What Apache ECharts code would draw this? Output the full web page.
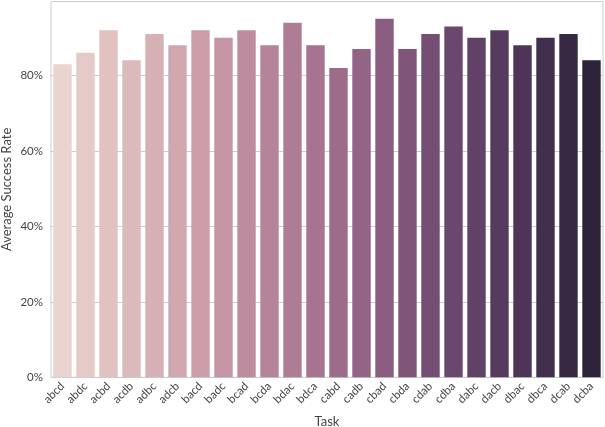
<!DOCTYPE html>
<html><head><meta charset="utf-8">
<script src="https://cdn.jsdelivr.net/npm/echarts@6/dist/echarts.min.js"></script>
<style>html,body{margin:0;padding:0;background:#fff}#c{width:605px;height:427px}</style>
</head><body><div id="c"></div>
<script>
const categories = ["abcd","abdc","acbd","acdb","adbc","adcb","bacd","badc","bcad","bcda","bdac","bdca","cabd","cadb","cbad","cbda","cdab","cdba","dabc","dacb","dbac","dbca","dcab","dcba"];
const successRate = [83,86,92,84,91,88,92,90,92,88,94,88,82,87,95,87,91,93,90,92,88,90,91,84];
const yTicks = [0,20,40,60,80];

function rgb2hls(r,g,b){const mx=Math.max(r,g,b),mn=Math.min(r,g,b);const l=(mx+mn)/2;if(mx===mn)return[0,l,0];const d=mx-mn;const s=l<=0.5?d/(mx+mn):d/(2-mx-mn);let h;if(mx===r)h=((g-b)/d)%6;else if(mx===g)h=(b-r)/d+2;else h=(r-g)/d+4;h/=6;if(h<0)h+=1;return[h,l,s];}
function hls2rgb(h,l,s){if(s===0)return[l,l,l];const m2=l<=0.5?l*(1+s):l+s-l*s;const m1=2*l-m2;const v=(hh)=>{hh=((hh%1)+1)%1;if(hh<1/6)return m1+(m2-m1)*hh*6;if(hh<0.5)return m2;if(hh<2/3)return m1+(m2-m1)*(2/3-hh)*6;return m1;};return[v(h+1/3),v(h),v(h-1/3)];}
function cubehelix(n){
  const start=0, rot=0.4, gamma=1, hue=0.8, light=0.85, dark=0.15;
  const f=(x,p0,p1)=>{const xg=Math.pow(x,gamma);const a=hue*xg*(1-xg)/2;const phi=2*Math.PI*(start/3+rot*x);return xg+a*(p0*Math.cos(phi)+p1*Math.sin(phi));};
  const out=[];
  for(let i=0;i<n;i++){
    const x=light+(dark-light)*i/(n-1);
    let c=[f(x,-0.14861,1.78277),f(x,-0.29227,-0.90649),f(x,1.97294,0)].map(v=>Math.max(0,Math.min(1,v)));
    const hls=rgb2hls(c[0],c[1],c[2]);
    c=hls2rgb(hls[0],hls[1],hls[2]*0.75);
    out.push('rgb('+c.map(v=>Math.round(v*255)).join(',')+')');
  }
  return out;
}
const colors = cubehelix(categories.length);
const chart = echarts.init(document.getElementById('c'));
chart.setOption({
  animation:false,
  textStyle:{fontFamily:'Lato'},
  grid:{left:51,right:2,top:1.5,bottom:49.7,show:true,borderColor:'#cccccc',borderWidth:1,outerBoundsMode:'none',containLabel:false},
  xAxis:{type:'category',data:categories,name:'Task',nameLocation:'middle',nameGap:38,nameMoveOverlap:false,
    nameTextStyle:{color:'#444',fontSize:13,fontFamily:'Lato'},
    axisLine:{show:false},axisTick:{show:false},
    axisLabel:{rotate:45,color:'#444',fontSize:11.5,margin:7,interval:0}},
  yAxis:{type:'value',min:0,max:99.6,interval:20,name:'Average Success Rate',nameLocation:'middle',nameGap:38,nameMoveOverlap:false,
    nameTextStyle:{color:'#444',fontSize:13,fontFamily:'Lato'},
    axisLine:{show:false},axisTick:{show:false},
    axisLabel:{color:'#444',fontSize:11.5,margin:8,formatter:v=>yTicks.includes(v)?v+'%':''},
    splitLine:{lineStyle:{color:'#cccccc',width:1}}},
  series:[{type:'bar',barCategoryGap:'20%',
    data:successRate.map((v,i)=>({value:v,itemStyle:{color:colors[i]}}))}]
});
</script></body></html>
